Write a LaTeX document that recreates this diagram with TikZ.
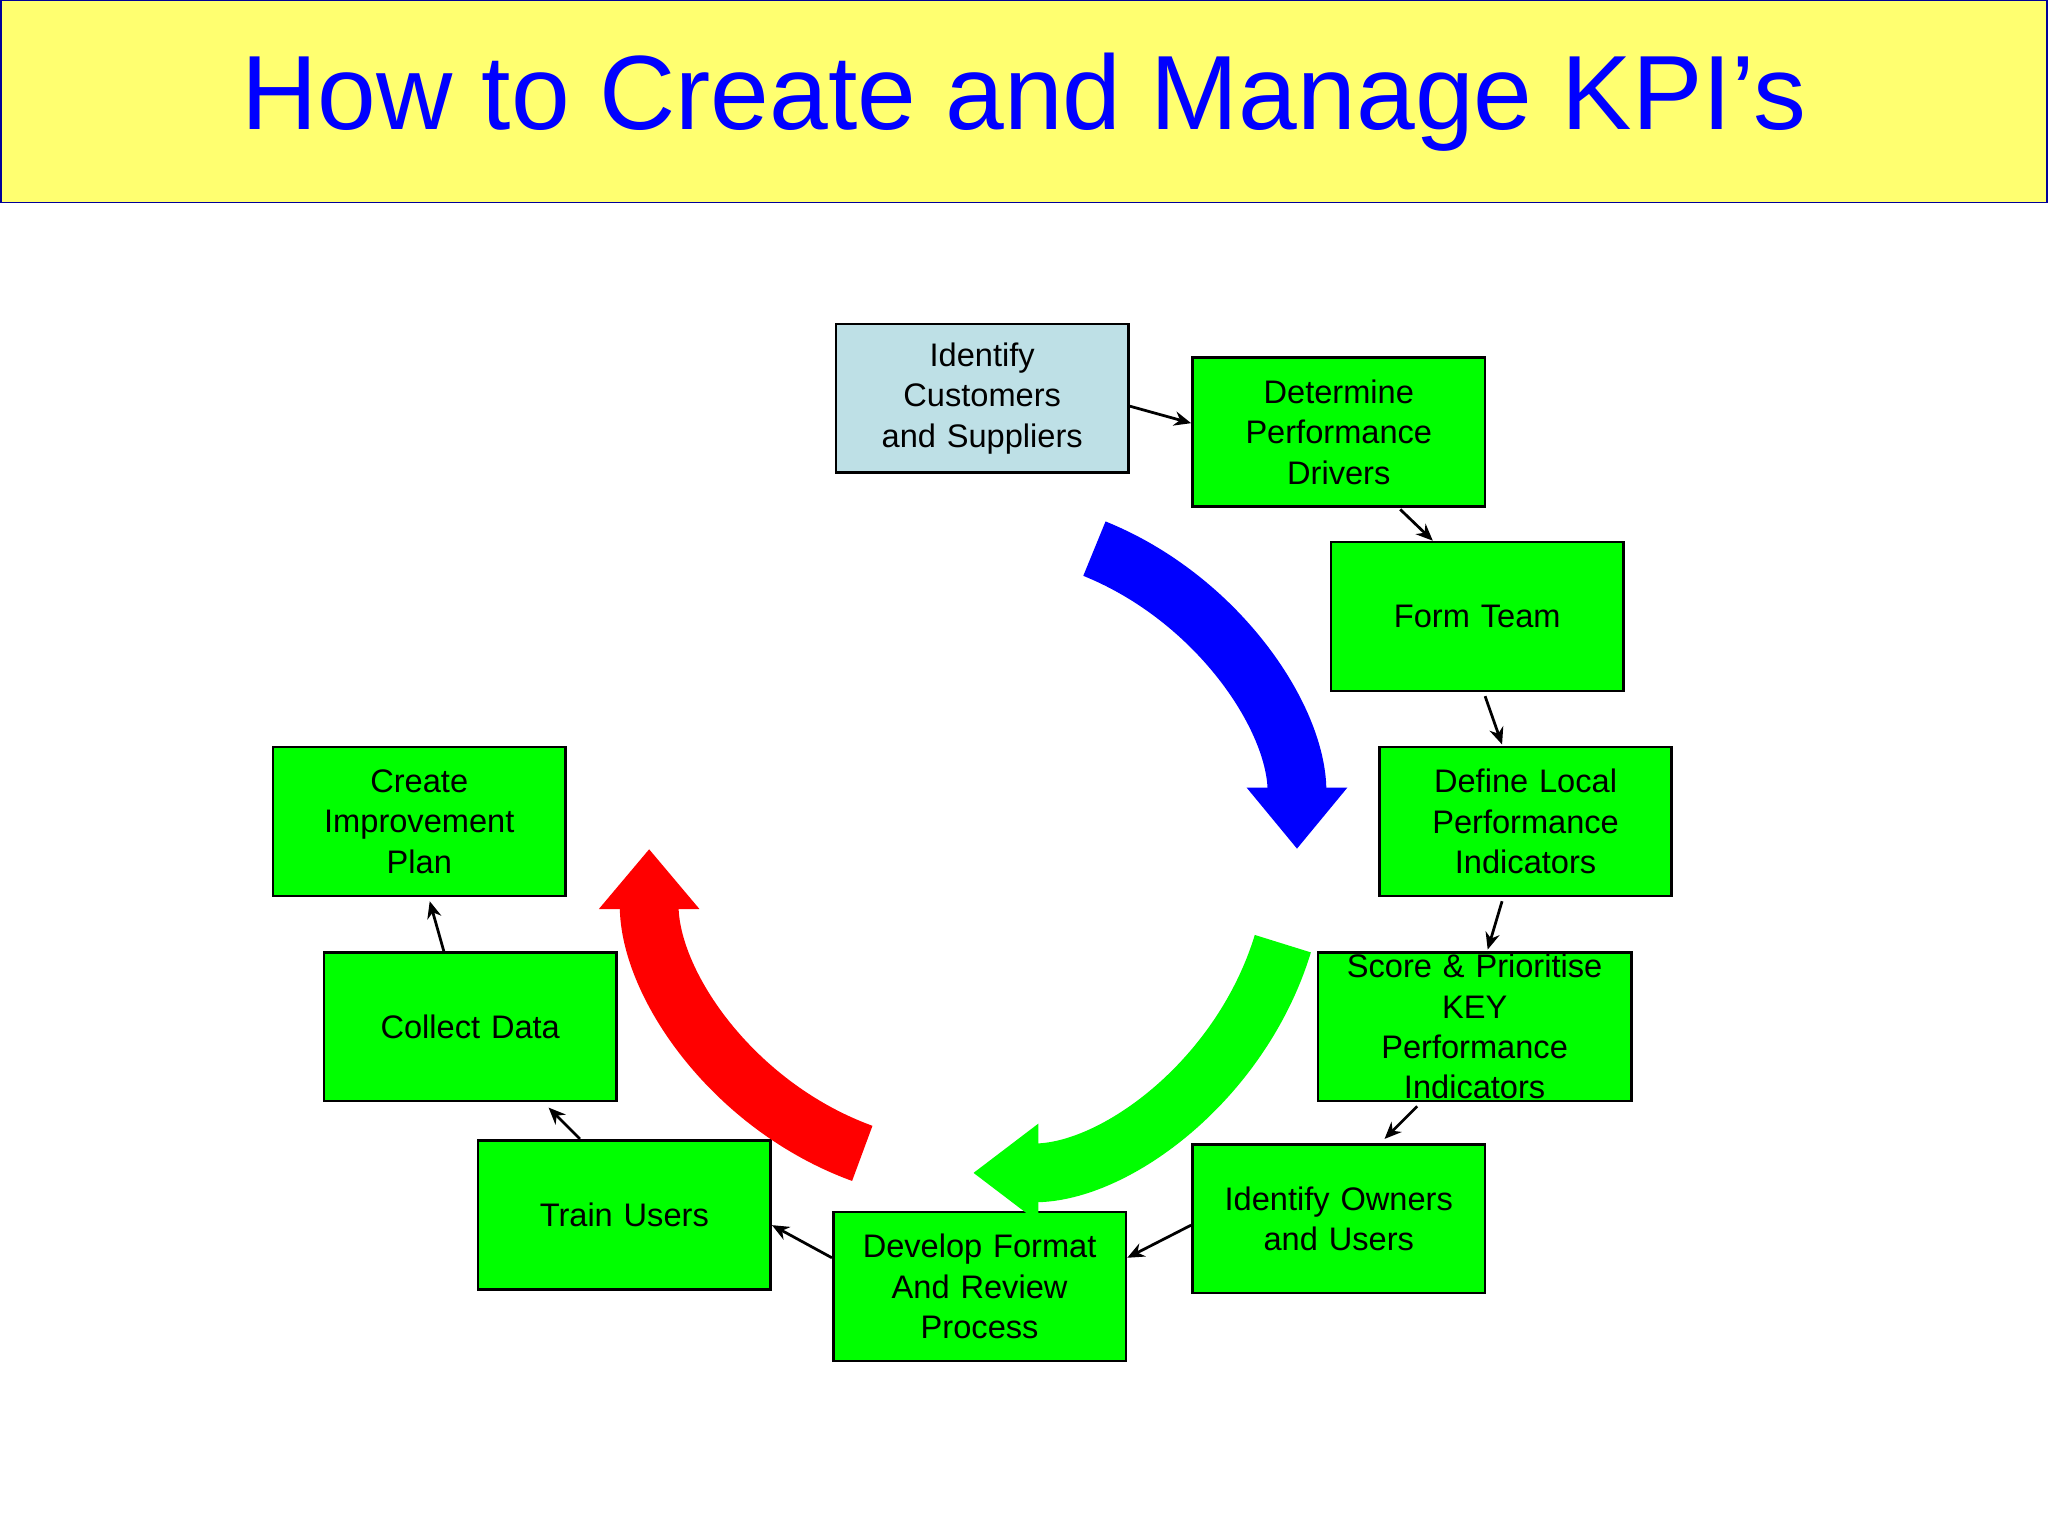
\documentclass[tikz,border=0pt]{standalone}
\usepackage{fontspec}
\setmainfont{Liberation Sans}
\usetikzlibrary{arrows.meta}
\definecolor{kg}{HTML}{00FF00}
\definecolor{lb}{HTML}{BEE0E6}
\definecolor{ty}{HTML}{FFFF70}
\begin{document}
\begin{tikzpicture}[
  box/.style={draw=black,line width=0.6pt,fill=kg,minimum width=2.24cm,minimum height=1.14cm,align=center,font=\fontsize{7.1}{8.8}\selectfont,inner sep=0pt,text width=2.2cm},
  sm/.style={-{Stealth[length=1.3mm,width=1.1mm]},line width=0.6pt},
  big/.style={line width=0.45cm}]
\useasboundingbox (0,0) rectangle (15.68,-11.76);
\fill[white] (0,0) rectangle (15.68,-11.76);
\node[draw=blue!60!black,line width=0.4pt,fill=ty,minimum width=15.66cm,minimum height=1.55cm,inner sep=0pt] (title) at (7.84,-0.775) {};
\node[text=blue,font=\fontsize{23}{27}\selectfont] (tt) at (7.84,-0.78) {How to Create and Manage KPI’s};
\node[box,fill=lb] (a) at (7.52,-3.05) {Identify\\Customers\\and Suppliers};
\node[box] (b) at (10.25,-3.31) {Determine\\Performance\\Drivers};
\node[box] (c) at (11.31,-4.72) {Form Team};
\node[box] (d) at (11.68,-6.29) {Define Local\\Performance\\Indicators};
\node[box,text width=2.4cm] (e) at (11.29,-7.86) {Score \& Prioritise\\KEY\\Performance\\Indicators};
\node[box] (f) at (10.25,-9.33) {Identify Owners\\and Users};
\node[box] (g) at (7.50,-9.85) {Develop Format\\And Review\\Process};
\node[box] (h) at (4.78,-9.30) {Train Users};
\node[box] (i) at (3.60,-7.86) {Collect Data};
\node[box] (j) at (3.21,-6.29) {Create\\Improvement\\Plan};
\draw[sm] (a.east|-0,-3.11) coordinate (a1) -- (b.west|-0,-3.24);
\draw[sm] (10.72,-3.90) -- (10.97,-4.14);
\draw[sm] (11.37,-5.33) -- (11.50,-5.70);
\draw[sm] (11.50,-6.90) -- (11.39,-7.27);
\draw[sm] (10.85,-8.47) -- (10.60,-8.72);
\draw[sm] (f.west|-0,-9.38) -- (g.east|-0,-9.63);
\draw[sm] (g.west|-0,-9.63) -- (h.east|-0,-9.38);
\draw[sm] (4.44,-8.72) -- (4.20,-8.48);
\draw[sm] (3.40,-7.29) -- (3.29,-6.90);
\coordinate (o) at (7.45,-6.5);
\draw[big,blue,-{Triangle[length=0.47cm,width=0.74cm]}] ([shift={(68:2.48)}]o) arc[start angle=68,end angle=0,radius=2.48];
\draw[big,kg,-{Triangle[length=0.5cm,width=0.72cm]}] ([shift={(-17:2.48)}]o) arc[start angle=-17,end angle=-90,radius=2.48];
\draw[big,red,-{Triangle[length=0.46cm,width=0.74cm]}] ([shift={(-110:2.48)}]o) arc[start angle=-110,end angle=-180,radius=2.48];
\end{tikzpicture}
\end{document}
